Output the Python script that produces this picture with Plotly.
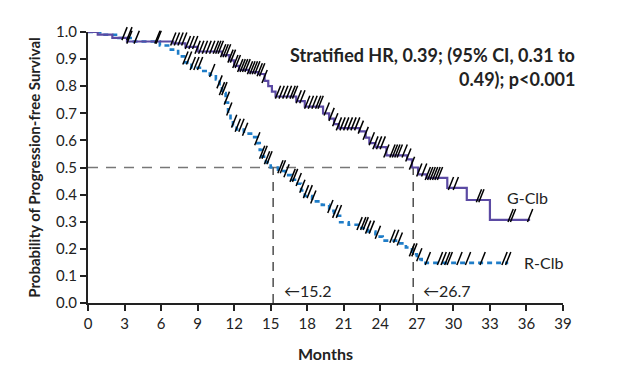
import numpy as np
import plotly.graph_objects as go

# ---- data ----
g_times = [0, 0.8, 2.0, 3.2, 7.0, 8.0, 9.0, 11.0, 11.6, 12.0, 12.4, 13.2, 14.0, 14.5, 14.8, 15.1, 15.4,
           17.1, 17.8, 19.3, 19.8, 20.2, 20.6, 22.3, 22.8, 23.1, 23.6, 24.5, 26.2, 26.6, 27.1, 27.8,
           29.5, 31.1, 33.0, 36.3]
g_surv = [1.0, 0.99, 0.978, 0.965, 0.958, 0.945, 0.928, 0.915, 0.895, 0.875, 0.86, 0.852, 0.845, 0.82,
          0.80, 0.78, 0.762, 0.745, 0.725, 0.70, 0.68, 0.66, 0.645, 0.633, 0.61, 0.59, 0.575, 0.545,
          0.53, 0.50, 0.475, 0.462, 0.425, 0.38, 0.307, 0.307]
g_censor = [0.2, 1.4, 3.0, 3.4, 4.0, 5.8, 7.0, 7.3, 7.6, 7.9, 8.2, 8.5, 8.8, 9.0, 9.3, 9.6, 9.9, 10.2,
            10.5, 10.7, 10.9, 11.1, 11.3, 11.5, 11.7, 11.9, 12.1, 12.3, 12.5, 12.7, 12.9, 13.1, 13.3,
            13.5, 13.7, 13.9, 14.1, 14.3, 14.5, 15.6, 15.9, 16.2, 16.5, 16.8, 17.0, 17.3, 17.6, 18.0,
            18.3, 18.6, 18.9, 19.1, 19.6, 20.0, 20.3, 20.6, 20.9, 21.2, 21.5, 21.8, 22.1, 22.4, 22.8,
            23.3, 23.6, 23.9, 24.2, 24.5, 25.0, 25.2, 25.4, 25.6, 26.0, 26.3, 26.6, 27.2, 27.6, 27.9,
            28.1, 28.3, 28.5, 28.7, 28.9, 29.8, 30.2, 32.1, 32.3, 34.7, 34.9, 36.3]

r_times = [0, 1.0, 2.5, 3.5, 5.9, 6.8, 7.4, 7.9, 8.5, 9.3, 10.0, 10.5, 10.8, 11.0, 11.3, 11.5, 11.7,
           11.9, 12.2, 12.8, 13.5, 13.9, 14.1, 14.3, 14.6, 15.0, 15.6, 16.2, 16.7, 17.2, 17.5, 17.8,
           18.4, 19.2, 19.8, 20.2, 20.7, 21.4, 22.2, 23.0, 23.6, 24.2, 25.5, 26.1, 26.6, 27.0, 27.4,
           34.5]
r_surv = [1.0, 0.99, 0.978, 0.965, 0.95, 0.935, 0.91, 0.888, 0.868, 0.856, 0.842, 0.825, 0.80, 0.775,
          0.74, 0.70, 0.675, 0.655, 0.64, 0.625, 0.612, 0.59, 0.565, 0.54, 0.52, 0.50, 0.487, 0.472,
          0.455, 0.44, 0.415, 0.395, 0.375, 0.362, 0.34, 0.322, 0.298, 0.289, 0.277, 0.264, 0.245,
          0.23, 0.22, 0.205, 0.18, 0.162, 0.148, 0.148]
r_censor = [0.3, 1.2, 3.4, 5.7, 8.0, 8.3, 8.6, 8.9, 9.2, 10.2, 10.8, 11.0, 11.2, 11.4, 11.6, 12.0, 12.3,
            12.6, 12.9, 13.9, 14.3, 14.5, 14.7, 14.9, 15.8, 16.0, 16.3, 16.8, 17.0, 17.3, 17.6, 17.9,
            18.2, 18.5, 19.9, 20.3, 20.6, 22.3, 22.6, 22.8, 23.0, 23.3, 23.8, 25.0, 25.3, 25.6, 26.6,
            26.8, 27.2, 27.9, 28.9, 29.2, 29.5, 29.7, 30.5, 31.2, 32.4, 34.2, 34.5]

median_g = 26.7
median_r = 15.2
x_ticks = list(range(0, 40, 3))
y_ticks = [round(i * 0.1, 1) for i in range(11)]


def surv_at(times, surv, t):
    idx = np.searchsorted(np.array(times), np.array(t), side="right") - 1
    return np.array(surv)[idx]


PURPLE = "#5b4aa3"
BLUE = "#1f7dc8"

fig = go.Figure()

# reference lines
fig.add_trace(go.Scatter(x=[0, median_g], y=[0.5, 0.5], mode="lines",
                         line=dict(color="#777777", width=1.5, dash="10px,8px"),
                         hoverinfo="skip", showlegend=False))
for m in (median_r, median_g):
    fig.add_trace(go.Scatter(x=[m, m], y=[0, 0.5], mode="lines",
                             line=dict(color="#333333", width=1.3, dash="9px,7px"),
                             hoverinfo="skip", showlegend=False))

fig.add_trace(go.Scatter(x=r_times, y=r_surv, mode="lines", line_shape="hv",
                         line=dict(color=BLUE, width=2.6, dash="5px,4px"),
                         showlegend=False, cliponaxis=False))
fig.add_trace(go.Scatter(x=g_times, y=g_surv, mode="lines", line_shape="hv",
                         line=dict(color=PURPLE, width=2.2),
                         showlegend=False, cliponaxis=False))

for times, surv, cens in ((r_times, r_surv, r_censor), (g_times, g_surv, g_censor)):
    fig.add_trace(go.Scatter(x=cens, y=surv_at(times, surv, cens) + 0.016, mode="markers",
                             marker=dict(symbol="line-ns", size=10, angle=22,
                                         line=dict(color="black", width=1.5)),
                             showlegend=False, cliponaxis=False))

FONT = "Lato"
# header text placed in paper coords (extends a little past the plot area)
fig.add_annotation(x=1.0 + 14 / 475, y=1 - (55 - 32) / 271, xref="paper", yref="paper",
                   xanchor="right", yanchor="middle",
                   text="<b>Stratified HR, 0.39; (95% CI, 0.31 to</b>",
                   showarrow=False, font=dict(family=FONT, size=18, color="#222"))
fig.add_annotation(x=1.0 + 14 / 475, y=1 - (79 - 32) / 271, xref="paper", yref="paper",
                   xanchor="right", yanchor="middle",
                   text="<b>0.49); p<0.001</b>",
                   showarrow=False, font=dict(family=FONT, size=18, color="#222"))
fig.add_annotation(x=34.2, y=0.39, xref="x", yref="y", xanchor="left", yanchor="middle",
                   text="G-Clb", showarrow=False, font=dict(family=FONT, size=16, color="#222"))
fig.add_annotation(x=35.6, y=0.148, xref="x", yref="y", xanchor="left", yanchor="middle",
                   text="R-Clb", showarrow=False, font=dict(family=FONT, size=16, color="#222"))
fig.add_annotation(x=15.9, y=0.045, xref="x", yref="y", xanchor="left", yanchor="middle",
                   text="\u2190" + str(median_r), showarrow=False,
                   font=dict(family=FONT, size=16, color="#222"))
fig.add_annotation(x=27.3, y=0.045, xref="x", yref="y", xanchor="left", yanchor="middle",
                   text="\u2190" + str(median_g), showarrow=False,
                   font=dict(family=FONT, size=16, color="#222"))

# the page adds an 8px body margin, so the figure is offset by 8px
fig.update_layout(
    width=612, height=365,
    margin=dict(l=80, r=57, t=24, b=70, autoexpand=False),
    paper_bgcolor="white", plot_bgcolor="white",
    font=dict(family=FONT, color="#222"),
    xaxis=dict(range=[0, 39], tickvals=x_ticks, showgrid=False, zeroline=False, automargin=False,
               showline=True, linecolor="#222", linewidth=2, ticks="outside", ticklen=6,
               tickwidth=1.5, tickcolor="#222", tickfont=dict(size=15, family=FONT),
               title=dict(text="<b>Months</b>", font=dict(size=16, family=FONT), standoff=18)),
    yaxis=dict(range=[0, 1.0], tickvals=y_ticks, tickformat=".1f", showgrid=False, automargin=False,
               zeroline=False, showline=True, linecolor="#222", linewidth=2, ticks="outside",
               ticklen=6, tickwidth=1.5, tickcolor="#222", tickfont=dict(size=15, family=FONT),
               title=dict(text="<b>Probability of Progression-free Survival</b>",
                          font=dict(size=15, family=FONT), standoff=12)),
)

fig.write_html("out.html")
